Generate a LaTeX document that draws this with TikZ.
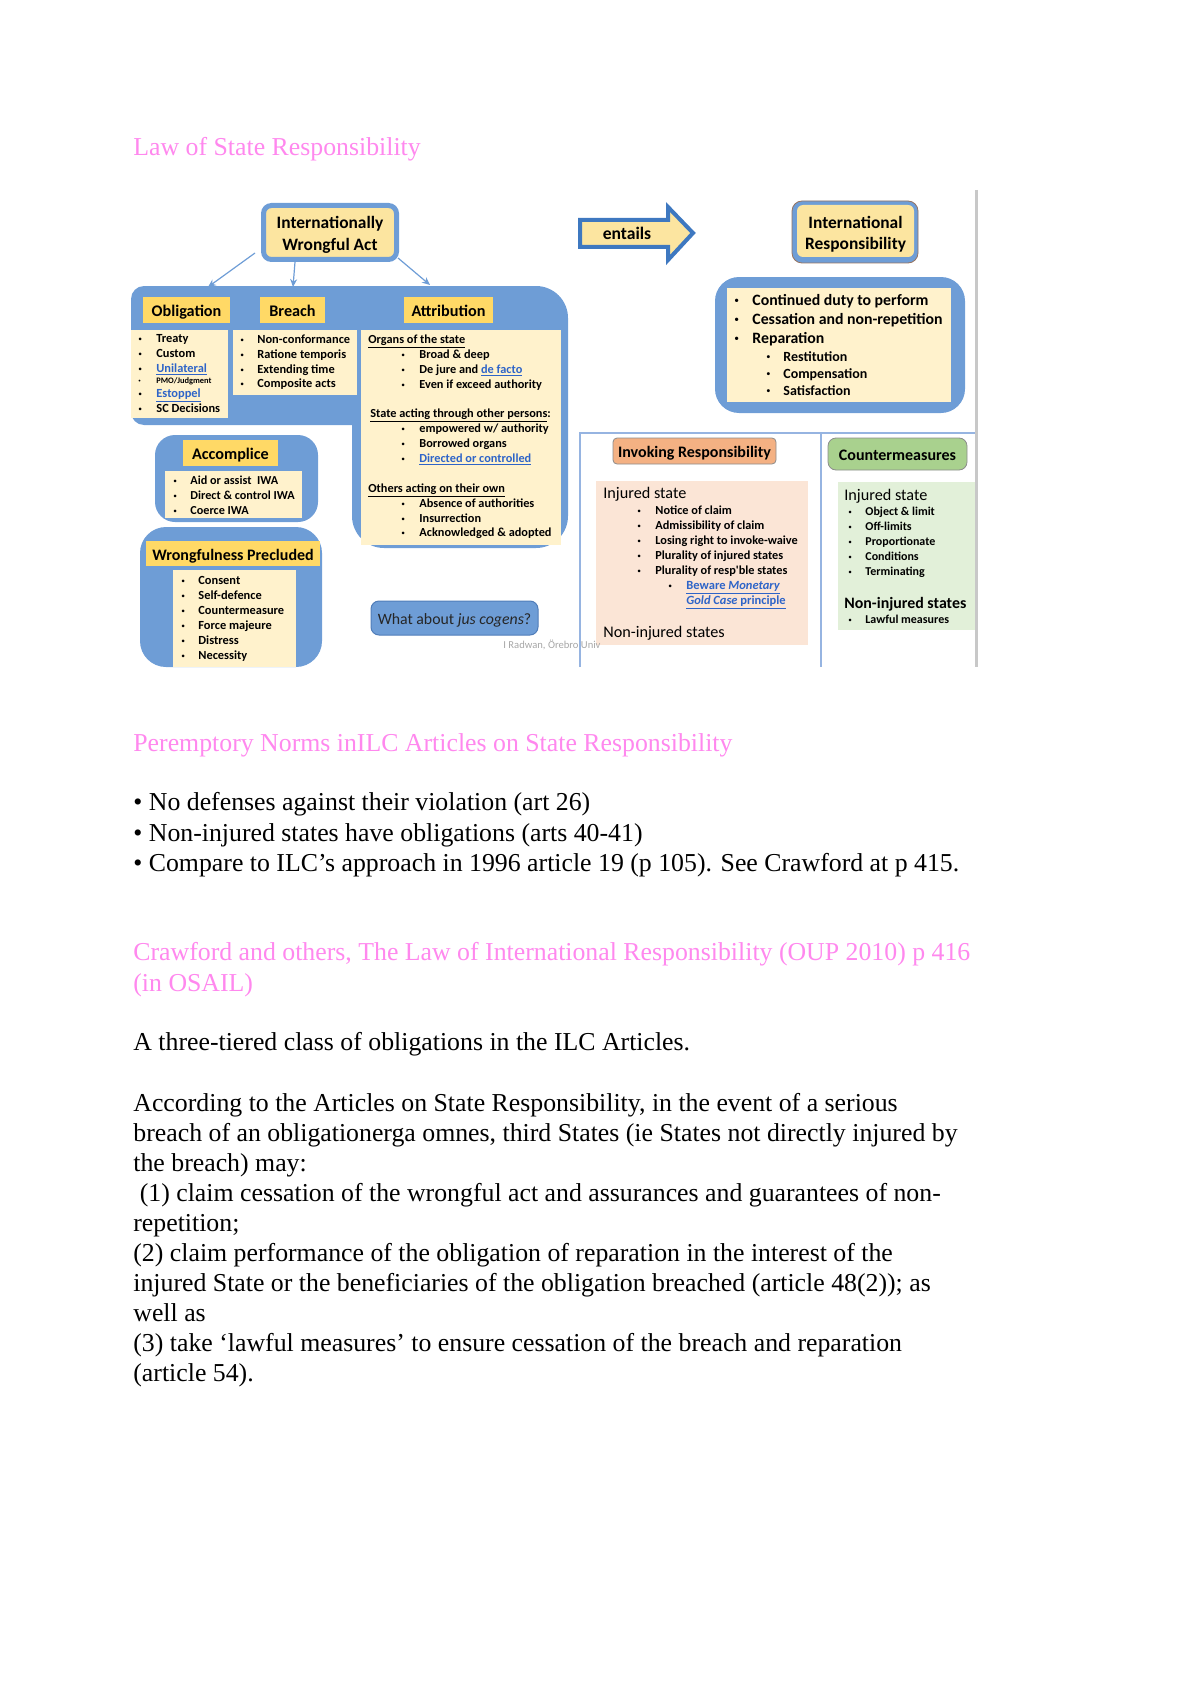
\documentclass[tikz,border=0pt]{standalone}
\usepackage{graphicx}
\usepackage{fontspec}
\setmainfont{Liberation Serif}
\newfontfamily\calf{Carlito}
\usetikzlibrary{arrows.meta,calc,fit}
\definecolor{blueC}{RGB}{110,157,214}
\definecolor{blueD}{RGB}{80,125,185}
\definecolor{blueA}{RGB}{62,120,192}
\definecolor{goldC}{RGB}{255,217,102}
\definecolor{paleY}{RGB}{255,242,204}
\definecolor{yelC}{RGB}{252,229,160}
\definecolor{orC}{RGB}{244,177,131}
\definecolor{pinkP}{RGB}{251,229,214}
\definecolor{grC}{RGB}{169,209,142}
\definecolor{grP}{RGB}{226,240,217}
\definecolor{linkC}{RGB}{46,100,200}
\definecolor{pinkT}{RGB}{255,136,238}
\definecolor{frameC}{RGB}{150,180,225}
\definecolor{grayL}{RGB}{200,200,200}
\definecolor{brownC}{RGB}{150,115,95}
\newcommand\bul[1]{\makebox[#1][l]{\raisebox{0.15ex}{\scalebox{0.6}{\mdseries •}}}}
\newcommand\lnk[1]{\textcolor{linkC}{\underline{#1}}}
\begin{document}
\begin{tikzpicture}[x=0.5pt,y=-0.5pt,
  body/.style={anchor=base west, inner sep=0pt, font=\fontsize{12.9}{15}\selectfont},
  pinkh/.style={body, text=pinkT},
  itm/.style={anchor=base west, inner sep=0pt, font=\calf\bfseries\fontsize{#1}{#1}\selectfont},
  reg/.style={anchor=base west, inner sep=0pt, font=\calf\fontsize{#1}{#1}\selectfont},
  htxt/.style={inner sep=0pt, text height=0.68em, text depth=0pt, font=\calf\bfseries\fontsize{#1}{#1}\selectfont},
  hdr/.style={fill=goldC, inner sep=0pt},
  pane/.style={fill=paleY, inner sep=0pt},
  bluebox/.style={fill=blueC, inner sep=0pt, rounded corners=#1},
  conn/.style={draw=blueC, line width=0.6pt, -{Stealth[length=4pt,width=3.5pt]}}]
\useasboundingbox (0,0) rectangle (1200,1696);

% ---------- title
\node[pinkh] (title) at (133,156) {Law of State Responsibility};

% ---------- left container
\fill[blueC, rounded corners=16pt] (352,286) rectangle (568,548);
\fill[blueC, rounded corners=6.5pt] (131,286) rectangle (450,425);

\node[hdr, fit={(143,297)(230,323)}] (obh) {};
\node[htxt=8.1] (obht) at (obh.center) {Obligation};
\node[hdr, fit={(260,297)(325,323)}] (brh) {};
\node[htxt=8.1] (brht) at (brh.center) {Breach};
\node[hdr, fit={(404,297)(493,323)}] (ath) {};
\node[htxt=8.1] (atht) at (ath.center) {Attribution};
\node[pane, fit={(131,330)(228,418)}] (obl) {};
\node[pane, fit={(233,330)(357,395)}] (brl) {};
\node[pane, fit={(361,330)(561,545)}] (atl) {};

% obligation items
\node[itm=6.2] (o1) at (138,342) {\bul{9pt}Treaty};
\node[itm=6.2] (o2) at (138,357) {\bul{9pt}Custom};
\node[itm=6.2] (o3) at (138,372) {\bul{9pt}\lnk{Unilateral}};
\node[itm=4.2] (o4) at (138,383) {\bul{9pt}PMO/Judgment};
\node[itm=6.2] (o5) at (138,397) {\bul{9pt}\lnk{Estoppel}};
\node[itm=6.2] (o6) at (138,412) {\bul{9pt}SC Decisions};
% breach items
\node[itm=6.2] (b1) at (240,343) {\bul{8.5pt}Non-conformance};
\node[itm=6.2] (b2) at (240,358) {\bul{8.5pt}Ratione temporis};
\node[itm=6.2] (b3) at (240,373) {\bul{8.5pt}Extending time};
\node[itm=6.2] (b4) at (240,387) {\bul{8.5pt}Composite acts};
% attribution items
\node[itm=6.15] (a0) at (368,343) {\underline{Organs of the state}};
\node[itm=6.15] (a1) at (401,358) {\bul{9pt}Broad \& deep};
\node[itm=6.15] (a2) at (401,373) {\bul{9pt}De jure and \lnk{de facto}};
\node[itm=6.15] (a3) at (401,388) {\bul{9pt}Even if exceed authority};
\node[itm=6.15] (a4) at (370,417) {\underline{State acting through other persons}:};
\node[itm=6.15] (a5) at (401,432) {\bul{9pt}empowered w/ authority};
\node[itm=6.15] (a6) at (401,447) {\bul{9pt}Borrowed organs};
\node[itm=6.15] (a7) at (401,462) {\bul{9pt}\lnk{Directed or controlled}};
\node[itm=6.15] (a8) at (368,492) {\underline{Others acting on their own}};
\node[itm=6.15] (a9) at (401,507) {\bul{9pt}Absence of authorities};
\node[itm=6.15] (a10) at (401,522) {\bul{9pt}Insurrection};
\node[itm=6.15] (a11) at (401,536) {\bul{9pt}Acknowledged \& adopted};

% IWA
\node[fill=yelC, draw=blueC, line width=2.5pt, rounded corners=4pt, inner sep=0pt,
      fit={(263.5,205.5)(396.5,259.5)}] (iwa) {};
\node[inner sep=0pt, align=center, font=\calf\bfseries\fontsize{8.7}{11}\selectfont]
      (iwat) at (330,235) {Internationally\\Wrongful Act};
\coordinate (ta) at (208,287);
\coordinate (tb) at (293,287);
\coordinate (tc) at (430,285);
\draw[conn] ($(iwa.south west)+(-6,-9)$) -- (ta);
\draw[conn] ($(iwa.south west)+(34,0)$) -- (tb);
\draw[conn] ($(iwa.south east)+(-1,-4)$) -- (tc);

% Accomplice
\node[bluebox=10pt, fit={(155,435)(318,522)}] (accb) {};
\node[hdr, fit={(183,440)(278,466)}] (acch) {};
\node[htxt=8.1] (accht) at (acch.center) {Accomplice};
\node[pane, fit={(165,471)(302,518)}] (accl) {};
\node[itm=6.1] (c1) at (173,484) {\bul{8.5pt}Aid or assist\ \ IWA};
\node[itm=6.1] (c2) at (173,499) {\bul{8.5pt}Direct \& control IWA};
\node[itm=6.1] (c3) at (173,514) {\bul{8.5pt}Coerce IWA};

% Wrongfulness precluded
\node[bluebox=13pt, fit={(140,527)(322,667)}] (wpb) {};
\node[hdr, fit={(146,541)(320,566)}] (wph) {};
\node[htxt=8.0] (wpht) at (wph.center) {Wrongfulness Precluded};
\node[pane, fit={(173,570)(296,667)}] (wpl) {};
\node[itm=6.2] (w1) at (181,584) {\bul{8.5pt}Consent};
\node[itm=6.2] (w2) at (181,599) {\bul{8.5pt}Self-defence};
\node[itm=6.2] (w3) at (181,614) {\bul{8.5pt}Countermeasure};
\node[itm=6.2] (w4) at (181,629) {\bul{8.5pt}Force majeure};
\node[itm=6.2] (w5) at (181,644) {\bul{8.5pt}Distress};
\node[itm=6.2] (w6) at (181,659) {\bul{8.5pt}Necessity};

% jus cogens
\node[fill=blueC, draw=blueD, line width=0.5pt, rounded corners=4pt, inner sep=0pt,
      fit={(371,601)(538,635)}] (jus) {};
\node[inner sep=0pt, text height=0.68em, text depth=0pt, font=\calf\fontsize{7.9}{9}\selectfont,
      text=black!85] (just) at (jus.center) {What about \textit{jus cogens}?};

% ---------- right side
\filldraw[fill=yelC, draw=blueA, line width=2pt, line join=miter]
  (580,220) -- (668,220) -- (668,207) -- (693,233) -- (668,260) -- (668,247) -- (580,247) -- cycle;
\node[htxt=8.8] (ent) at (627,233) {entails};

\node[fill=blueC, draw=brownC, line width=0.4pt, rounded corners=5pt, inner sep=0pt, fit={(792,201)(918,263)}] (irb) {};
\node[fill=yelC, inner sep=0pt, rounded corners=3pt, fit={(797,205)(914,257)}] (ir) {};
\node[inner sep=0pt, align=center, font=\calf\bfseries\fontsize{8.7}{10.5}\selectfont]
      (irt) at (855.5,234) {International\\Responsibility};

\node[bluebox=12pt, fit={(715,277)(965,413)}] (repb) {};
\node[pane, fit={(727,288)(951,402)}] (repi) {};
\node[itm=7.9] (r1) at (734,305) {\bul{9pt}Continued duty to perform};
\node[itm=7.9] (r2) at (734,324) {\bul{9pt}Cessation and non-repetition};
\node[itm=7.9] (r3) at (734,343) {\bul{9pt}Reparation};
\node[itm=7.0] (r4) at (766,361) {\bul{8.5pt}Restitution};
\node[itm=7.0] (r5) at (766,378) {\bul{8.5pt}Compensation};
\node[itm=7.0] (r6) at (766,395) {\bul{8.5pt}Satisfaction};

% frames
\draw[frameC, line width=1pt] (580,667) -- (580,433) -- (976,433);
\draw[frameC, line width=1pt] (821,433) -- (821,667);

% invoking
\node[fill=orC, draw=black!45, line width=0.4pt, rounded corners=2pt, inner sep=0pt,
      fit={(613,438)(776,464)}] (invh) {};
\node[htxt=8.0] (invht) at (invh.center) {Invoking Responsibility};
\node[fill=pinkP, inner sep=0pt, fit={(596,481)(808,645)}] (invp) {};
\node[reg=8.1] (i0) at (603,498) {Injured state};
\node[itm=6.15] (i1) at (637,514) {\bul{9pt}Notice of claim};
\node[itm=6.15] (i2) at (637,529) {\bul{9pt}Admissibility of claim};
\node[itm=6.15] (i3) at (637,544) {\bul{9pt}Losing right to invoke-waive};
\node[itm=6.15] (i4) at (637,559) {\bul{9pt}Plurality of injured states};
\node[itm=6.15] (i5) at (637,574) {\bul{9pt}Plurality of resp'ble states};
\node[itm=6.25] (i6) at (668,589) {\bul{9pt}\lnk{Beware \textit{Monetary}}};
\node[itm=6.25] (i7) at (686,604) {\lnk{\textit{Gold Case} principle}};
\node[reg=8.1] (i8) at (603,637) {Non-injured states};

% countermeasures
\node[fill=grC, draw=black!45, line width=0.4pt, rounded corners=4pt, inner sep=0pt,
      fit={(828,438)(967,470)}] (cmh) {};
\node[htxt=8.0] (cmht) at (cmh.center) {Countermeasures};
\node[fill=grP, inner sep=0pt, fit={(838,482)(976,630)}] (cmp) {};
\node[reg=8.1] (k0) at (844,500) {Injured state};
\node[itm=6.0] (k1) at (848,515) {\bul{8.5pt}Object \& limit};
\node[itm=6.0] (k2) at (848,530) {\bul{8.5pt}Off-limits};
\node[itm=6.0] (k3) at (848,545) {\bul{8.5pt}Proportionate};
\node[itm=6.0] (k4) at (848,560) {\bul{8.5pt}Conditions};
\node[itm=6.0] (k5) at (848,575) {\bul{8.5pt}Terminating};
\node[itm=7.95] (k6) at (844,608) {Non-injured states};
\node[itm=6.0] (k7) at (848,623) {\bul{8.5pt}Lawful measures};

\draw[grayL, line width=1.5pt] (976,190) -- (976,667);
\node[reg=5.3, text=black!35] (wm) at (503,648) {I Radwan, Örebro Univ};

% ---------- text
\node[pinkh] (h2) at (133,751) {Peremptory Norms inILC Articles on State Responsibility};
\node[body] (p1) at (133,810) {• No defenses against their violation (art 26)};
\node[body] (p2) at (133,841) {• Non-injured states have obligations (arts 40-41)};
\node[body] (p3) at (133,871) {• Compare to ILC’s approach in 1996 article 19 (p 105). See Crawford at p 415.};
\node[pinkh] (h3) at (133,960) {Crawford and others, The Law of International Responsibility (OUP 2010) p 416};
\node[pinkh] (h3b) at (133,991) {(in OSAIL)};
\node[body] (q0) at (133,1050) {A three-tiered class of obligations in the ILC Articles.};
\node[body] (q1) at (133,1111) {According to the Articles on State Responsibility, in the event of a serious};
\node[body] (q2) at (133,1141) {breach of an obligationerga omnes, third States (ie States not directly injured by};
\node[body] (q3) at (133,1171) {the breach) may:};
\node[body] (q4) at (133,1201) {\ (1) claim cessation of the wrongful act and assurances and guarantees of non-};
\node[body] (q5) at (133,1231) {repetition;};
\node[body] (q6) at (133,1261) {(2) claim performance of the obligation of reparation in the interest of the};
\node[body] (q7) at (133,1291) {injured State or the beneficiaries of the obligation breached (article 48(2)); as};
\node[body] (q8) at (133,1321) {well as};
\node[body] (q9) at (133,1351) {(3) take ‘lawful measures’ to ensure cessation of the breach and reparation};
\node[body] (q10) at (133,1381) {(article 54).};
\end{tikzpicture}
\end{document}
